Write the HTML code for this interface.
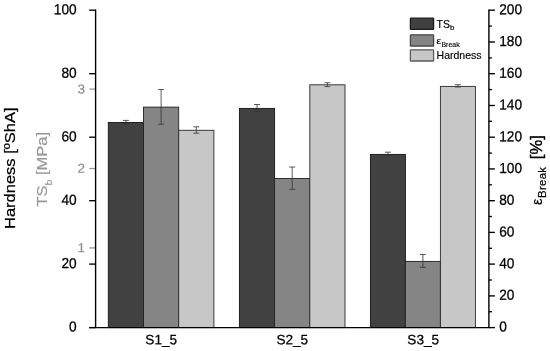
<!DOCTYPE html><html><head><meta charset="utf-8"><title>chart</title>
<style>html,body{margin:0;padding:0;background:#fff}svg{display:block}text{font-family:"Liberation Sans",Arial,sans-serif}</style></head><body>
<svg width="550" height="351" viewBox="0 0 550 351">
<rect width="550" height="351" fill="#fff"/>
<rect x="108.3" y="122.5" width="35.2" height="205.1" fill="#414141" stroke="#151515" stroke-width="0.9"/>
<rect x="143.5" y="107.1" width="35.2" height="220.5" fill="#858585" stroke="#222" stroke-width="0.9"/>
<rect x="178.7" y="130.3" width="35.2" height="197.3" fill="#c7c7c7" stroke="#2a2a2a" stroke-width="0.9"/>
<path d="M125.9 120.4V123.7M122.9 120.4h6M122.9 123.7h6" stroke="#333" stroke-width="0.8" fill="none"/>
<path d="M161.1 89.5V124.2M158.1 89.5h6M158.1 124.2h6" stroke="#333" stroke-width="0.8" fill="none"/>
<path d="M196.3 126.8V133.2M193.3 126.8h6M193.3 133.2h6" stroke="#333" stroke-width="0.8" fill="none"/>
<rect x="239.4" y="108.4" width="35.2" height="219.2" fill="#414141" stroke="#151515" stroke-width="0.9"/>
<rect x="274.6" y="178.5" width="35.2" height="149.1" fill="#858585" stroke="#222" stroke-width="0.9"/>
<rect x="309.8" y="84.8" width="35.2" height="242.8" fill="#c7c7c7" stroke="#2a2a2a" stroke-width="0.9"/>
<path d="M257.0 104.5V111.2M254.0 104.5h6M254.0 111.2h6" stroke="#333" stroke-width="0.8" fill="none"/>
<path d="M292.2 167.0V189.3M289.2 167.0h6M289.2 189.3h6" stroke="#333" stroke-width="0.8" fill="none"/>
<path d="M327.4 82.7V86.6M324.4 82.7h6M324.4 86.6h6" stroke="#333" stroke-width="0.8" fill="none"/>
<rect x="370.4" y="154.4" width="35.0" height="173.2" fill="#414141" stroke="#151515" stroke-width="0.9"/>
<rect x="405.4" y="261.4" width="35.0" height="66.2" fill="#858585" stroke="#222" stroke-width="0.9"/>
<rect x="440.4" y="86.4" width="35.0" height="241.2" fill="#c7c7c7" stroke="#2a2a2a" stroke-width="0.9"/>
<path d="M387.9 152.2V155.5M384.9 152.2h6M384.9 155.5h6" stroke="#333" stroke-width="0.8" fill="none"/>
<path d="M422.9 254.5V267.3M419.9 254.5h6M419.9 267.3h6" stroke="#333" stroke-width="0.8" fill="none"/>
<path d="M457.9 84.7V87.0M454.9 84.7h6M454.9 87.0h6" stroke="#333" stroke-width="0.8" fill="none"/>
<path d="M89.3 247.9H95.6" stroke="#999" stroke-width="1.3"/>
<text transform="translate(85.0,252.20) rotate(0.03) scale(1,0.97)" font-size="13.5" fill="#8c8c8c" stroke="#8c8c8c" stroke-width="0.15" text-anchor="end">1</text>
<path d="M89.3 168.5H95.6" stroke="#999" stroke-width="1.3"/>
<text transform="translate(85.0,172.80) rotate(0.03) scale(1,0.97)" font-size="13.5" fill="#8c8c8c" stroke="#8c8c8c" stroke-width="0.15" text-anchor="end">2</text>
<path d="M89.3 89.1H95.6" stroke="#999" stroke-width="1.3"/>
<text transform="translate(85.0,93.40) rotate(0.03) scale(1,0.97)" font-size="13.5" fill="#8c8c8c" stroke="#8c8c8c" stroke-width="0.15" text-anchor="end">3</text>
<path d="M95.6 9.55V327.6M89 327.6H489.6M488.9 9.55V327.6" stroke="#000" stroke-width="1.4" fill="none"/>
<path d="M89.2 327.6H95.6" stroke="#000" stroke-width="1.35"/>
<text transform="translate(76.7,331.60) rotate(0.03) scale(1,1.06)" font-size="13.7" fill="#000" stroke="#000" stroke-width="0.25" text-anchor="end">0</text>
<path d="M89.2 264.1H95.6" stroke="#000" stroke-width="1.35"/>
<text transform="translate(76.7,268.13) rotate(0.03) scale(1,1.06)" font-size="13.7" fill="#000" stroke="#000" stroke-width="0.25" text-anchor="end">20</text>
<path d="M89.2 200.7H95.6" stroke="#000" stroke-width="1.35"/>
<text transform="translate(76.7,204.66) rotate(0.03) scale(1,1.06)" font-size="13.7" fill="#000" stroke="#000" stroke-width="0.25" text-anchor="end">40</text>
<path d="M89.2 137.2H95.6" stroke="#000" stroke-width="1.35"/>
<text transform="translate(76.7,141.19) rotate(0.03) scale(1,1.06)" font-size="13.7" fill="#000" stroke="#000" stroke-width="0.25" text-anchor="end">60</text>
<path d="M89.2 73.7H95.6" stroke="#000" stroke-width="1.35"/>
<text transform="translate(76.7,77.72) rotate(0.03) scale(1,1.06)" font-size="13.7" fill="#000" stroke="#000" stroke-width="0.25" text-anchor="end">80</text>
<path d="M89.2 10.2H95.6" stroke="#000" stroke-width="1.35"/>
<text transform="translate(76.7,14.25) rotate(0.03) scale(1,1.06)" font-size="13.7" fill="#000" stroke="#000" stroke-width="0.25" text-anchor="end">100</text>
<path d="M488.9 327.6h6.0" stroke="#000" stroke-width="1.35"/>
<text transform="translate(499.2,331.60) rotate(0.03) scale(1,1.06)" font-size="13.7" fill="#000" stroke="#000" stroke-width="0.25">0</text>
<path d="M488.9 311.7h3" stroke="#000" stroke-width="1.35"/>
<path d="M488.9 295.9h6.0" stroke="#000" stroke-width="1.35"/>
<text transform="translate(499.2,299.87) rotate(0.03) scale(1,1.06)" font-size="13.7" fill="#000" stroke="#000" stroke-width="0.25">20</text>
<path d="M488.9 280.0h3" stroke="#000" stroke-width="1.35"/>
<path d="M488.9 264.1h6.0" stroke="#000" stroke-width="1.35"/>
<text transform="translate(499.2,268.13) rotate(0.03) scale(1,1.06)" font-size="13.7" fill="#000" stroke="#000" stroke-width="0.25">40</text>
<path d="M488.9 248.3h3" stroke="#000" stroke-width="1.35"/>
<path d="M488.9 232.4h6.0" stroke="#000" stroke-width="1.35"/>
<text transform="translate(499.2,236.40) rotate(0.03) scale(1,1.06)" font-size="13.7" fill="#000" stroke="#000" stroke-width="0.25">60</text>
<path d="M488.9 216.5h3" stroke="#000" stroke-width="1.35"/>
<path d="M488.9 200.7h6.0" stroke="#000" stroke-width="1.35"/>
<text transform="translate(499.2,204.66) rotate(0.03) scale(1,1.06)" font-size="13.7" fill="#000" stroke="#000" stroke-width="0.25">80</text>
<path d="M488.9 184.8h3" stroke="#000" stroke-width="1.35"/>
<path d="M488.9 168.9h6.0" stroke="#000" stroke-width="1.35"/>
<text transform="translate(499.2,172.93) rotate(0.03) scale(1,1.06)" font-size="13.7" fill="#000" stroke="#000" stroke-width="0.25">100</text>
<path d="M488.9 153.1h3" stroke="#000" stroke-width="1.35"/>
<path d="M488.9 137.2h6.0" stroke="#000" stroke-width="1.35"/>
<text transform="translate(499.2,141.19) rotate(0.03) scale(1,1.06)" font-size="13.7" fill="#000" stroke="#000" stroke-width="0.25">120</text>
<path d="M488.9 121.3h3" stroke="#000" stroke-width="1.35"/>
<path d="M488.9 105.5h6.0" stroke="#000" stroke-width="1.35"/>
<text transform="translate(499.2,109.46) rotate(0.03) scale(1,1.06)" font-size="13.7" fill="#000" stroke="#000" stroke-width="0.25">140</text>
<path d="M488.9 89.6h3" stroke="#000" stroke-width="1.35"/>
<path d="M488.9 73.7h6.0" stroke="#000" stroke-width="1.35"/>
<text transform="translate(499.2,77.72) rotate(0.03) scale(1,1.06)" font-size="13.7" fill="#000" stroke="#000" stroke-width="0.25">160</text>
<path d="M488.9 57.9h3" stroke="#000" stroke-width="1.35"/>
<path d="M488.9 42.0h6.0" stroke="#000" stroke-width="1.35"/>
<text transform="translate(499.2,45.99) rotate(0.03) scale(1,1.06)" font-size="13.7" fill="#000" stroke="#000" stroke-width="0.25">180</text>
<path d="M488.9 26.1h3" stroke="#000" stroke-width="1.35"/>
<path d="M488.9 10.2h6.0" stroke="#000" stroke-width="1.35"/>
<text transform="translate(499.2,14.25) rotate(0.03) scale(1,1.06)" font-size="13.7" fill="#000" stroke="#000" stroke-width="0.25">200</text>
<text transform="translate(161.2,344.3) rotate(0.03)" font-size="13.6" fill="#000" stroke="#000" stroke-width="0.25" text-anchor="middle">S1_5</text>
<text transform="translate(292.3,344.3) rotate(0.03)" font-size="13.6" fill="#000" stroke="#000" stroke-width="0.25" text-anchor="middle">S2_5</text>
<text transform="translate(423.2,344.3) rotate(0.03)" font-size="13.6" fill="#000" stroke="#000" stroke-width="0.25" text-anchor="middle">S3_5</text>
<text transform="translate(15.1,229.0) rotate(-90) scale(1,0.93)" font-size="16.5" fill="#000" stroke="#000" stroke-width="0.25">Hardness [ºShA]</text>
<text transform="translate(47.2,206.6) rotate(-90) scale(1,0.93)" font-size="16.5" fill="#999" stroke="#999" stroke-width="0.2">TS<tspan font-size="10.7" dy="5.6">b</tspan><tspan dy="-5.6"> [MPa]</tspan></text>
<text transform="translate(541.5,205.1) rotate(-90)" font-size="14.5" fill="#000" stroke="#000" stroke-width="0.2">ε</text>
<text transform="translate(546.0,197.9) rotate(-90)" font-size="11.4" fill="#000" stroke="#000" stroke-width="0.2" letter-spacing="0.3">Break</text>
<text transform="translate(541.6,159.2) rotate(-90)" font-size="16.5" fill="#000" stroke="#000" stroke-width="0.4" letter-spacing="0.1">[%]</text>
<rect x="410.4" y="18.2" width="23.2" height="11.2" rx="0.6" fill="#414141" stroke="#1a1a1a" stroke-width="1.3"/>
<rect x="410.4" y="34.800000000000004" width="23.2" height="11.2" rx="0.6" fill="#858585" stroke="#484848" stroke-width="1.3"/>
<rect x="410.4" y="49.800000000000004" width="23.2" height="11.2" rx="0.6" fill="#c7c7c7" stroke="#5c5c5c" stroke-width="1.3"/>
<text x="436.6" y="27.7" font-size="10.5" fill="#000" stroke="#000" stroke-width="0.15">TS<tspan font-size="7.8" dy="2.4">b</tspan></text>
<text transform="translate(436.6,43.9) scale(1,0.8)" font-size="10.5" fill="#000" stroke="#000" stroke-width="0.15">ε</text>
<text x="441.4" y="46.9" font-size="7" fill="#000" stroke="#000" stroke-width="0.12">Break</text>
<text x="436.6" y="58.8" font-size="10.5" fill="#000" stroke="#000" stroke-width="0.15">Hardness</text>
</svg></body></html>
